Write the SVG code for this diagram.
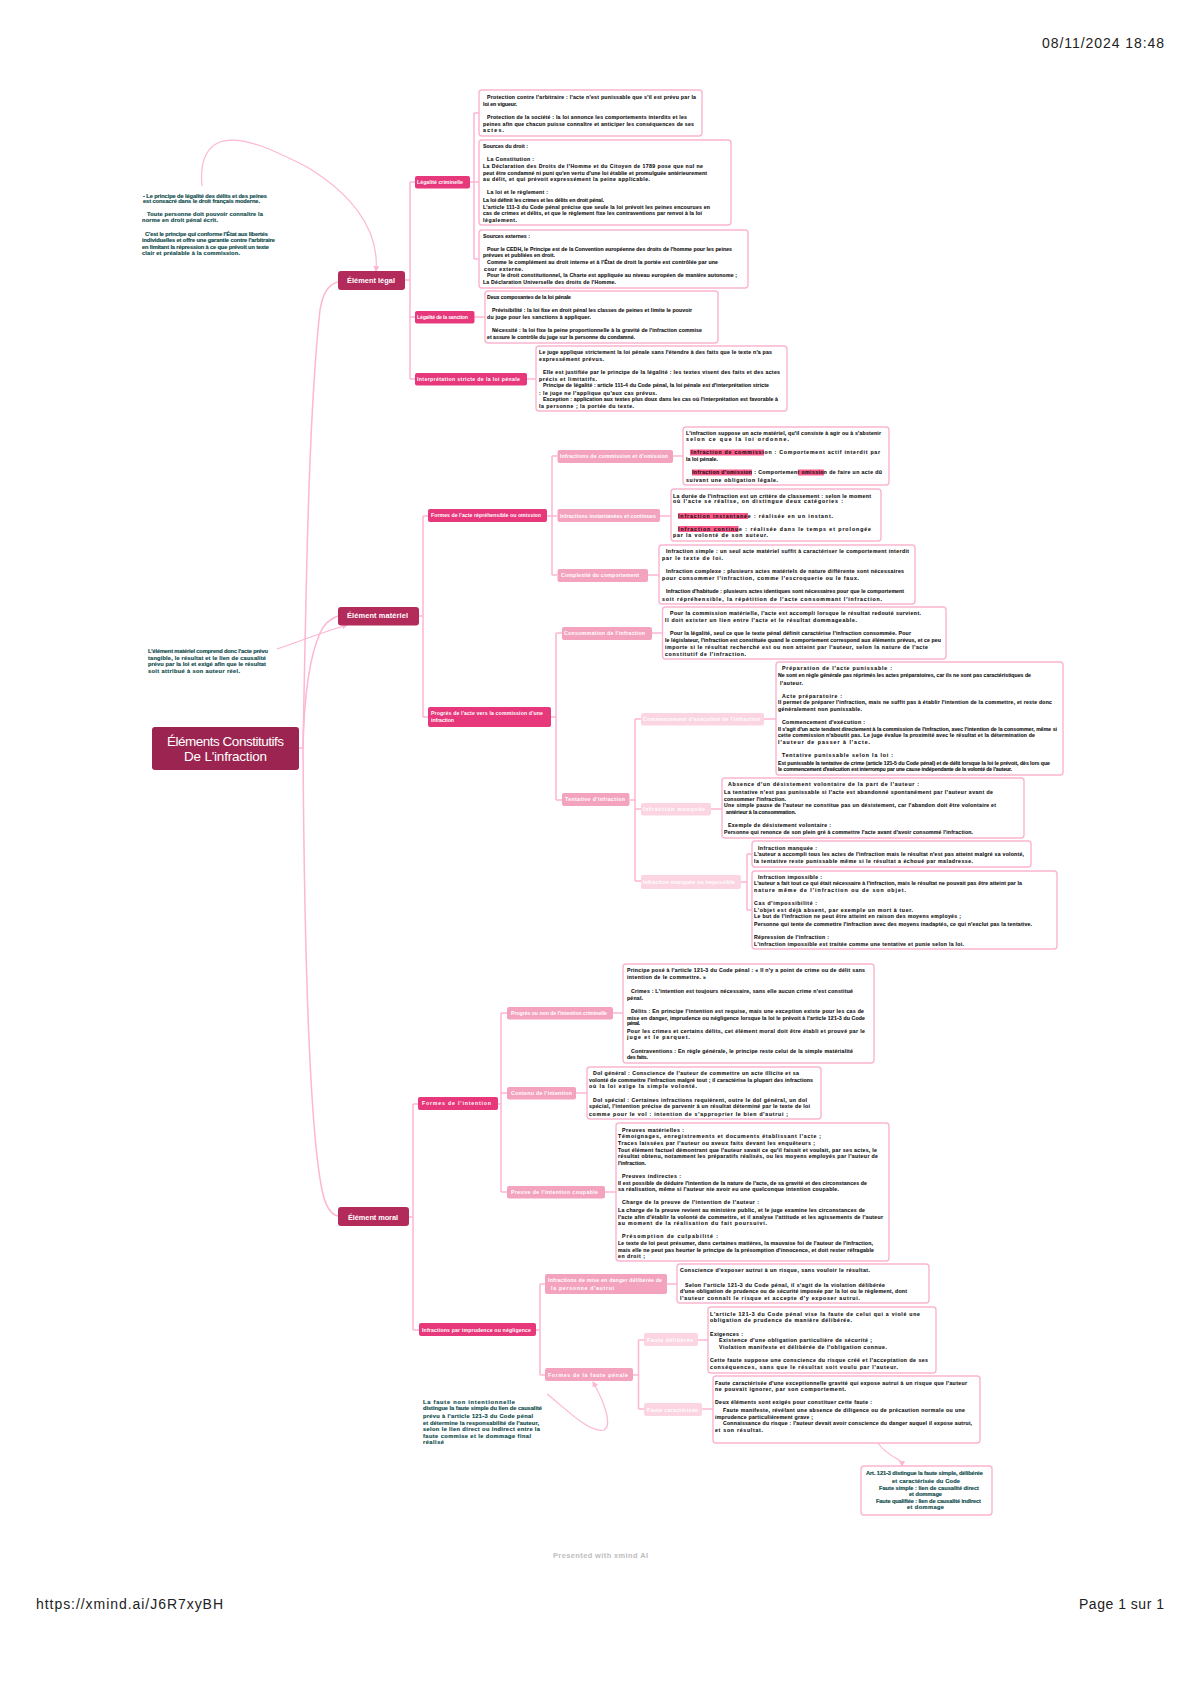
<svg xmlns="http://www.w3.org/2000/svg" width="1200" height="1696" viewBox="0 0 1200 1696">
<style>
text{font-family:"Liberation Sans",Arial,sans-serif}
.t{font-size:5.2px;font-weight:700;fill:#111;stroke:#111;stroke-width:.1}
.n{font-size:5.7px;font-weight:700;fill:#0d4a4a;stroke:#0d4a4a;stroke-width:.15}
.w{font-size:5.2px;font-weight:700;fill:#fff}
.l1t{font-size:7.4px;font-weight:700;fill:#fff}
.leaf{fill:#fff;stroke:#fbb4d0;stroke-width:1.4}
.l1{fill:#b32b5b}.l2{fill:#e6387a}.l3{fill:#f4a3bf}.l4{fill:#fbd5e2}
.hl{fill:#fb5c8c}
.c{fill:none;stroke:#fdb6d4;stroke-width:1.5}
.r{fill:none;stroke:#fdb6d4;stroke-width:1.2}
.hf{font-size:14px;fill:#222}
</style>
<defs><marker id="ah" viewBox="0 0 6 6" refX="5" refY="3" markerWidth="5" markerHeight="5" orient="auto"><path d="M0 0L6 3L0 6z" fill="#fdb6d4"/></marker></defs>
<rect width="1200" height="1696" fill="#fff"/>
<text id="date" class="hf" x="1042" y="48" textLength="122">08/11/2024 18:48</text>
<text id="url" class="hf" x="36" y="1609" textLength="187">https://xmind.ai/J6R7xyBH</text>
<text id="page" class="hf" x="1079" y="1609" textLength="85">Page 1 sur 1</text>
<text id="credit" x="553" y="1558" font-size="7.4" font-weight="700" fill="#bdbdbd" textLength="95">Presented with xmind AI</text>

<g id="connectors">
<path class="c" d="M299 748H303C306 600 308 420 320 310Q324 285 338 282"/>
<path class="c" d="M303 748C304 700 308 660 320 633Q326 620 338 616"/>
<path class="c" d="M303 748C304 900 308 1120 322 1190Q327 1214 338 1216"/>
<path class="c" d="M405 280H410M410 182V379M410 182H415M410 317H415M410 379H415M470 182H479M474 113V259M474 113H479M474 259H479M474.500 317H485M527 379H536"/>
<path class="c" d="M419 616H423M423 516V717M423 516H428M423 717H428M547 516H552M552 456V575M552 456H557M552 516H557M552 575H557M673 456H683M660 516H671M648 575H659"/>
<path class="c" d="M551 717H556M556 633V800M556 633H562M556 800H562M652 633H662M630 800H635M635 719V881M635 719H641M635 809H641M635 881H641M764 719H776M711 809H722M741 882H747M747 854V910M747 854H752M747 910H752"/>
<path class="c" d="M409 1217H413M413 1104V1330M413 1104H418M413 1330H419M498 1104H501M501 1013V1192M501 1013H507M501 1093H507M501 1192H507M613 1013H623M576 1093H587M605 1192H616"/>
<path class="c" d="M536 1330H540M540 1284V1375M540 1284H545M540 1375H545M667 1284H677M633 1375H638.500M638.500 1340V1409M638.500 1340H644M638.500 1409H644M698 1340H708M702 1409H713"/>
<path class="r" marker-end="url(#ah)" d="M202 186C200 165 205 148 220 142C240 135 270 148 307 167C345 190 380 225 376 271"/>
<path class="r" marker-end="url(#ah)" d="M277 649C295 643 320 633 347 625"/>
<path class="r" marker-end="url(#ah)" d="M547 1394C565 1408 590 1434 604 1430C612 1426 606 1405 593 1382"/>
<path class="r" marker-end="url(#ah)" d="M878 1443C884 1452 892 1456 899 1460Q902 1462 902 1466"/>
</g>

<g id="central"><rect x="152" y="727" width="147" height="43" rx="3" fill="#9c2450"/>
<text x="167" y="746" font-size="13.500" fill="#fff" textLength="117">Éléments Constitutifs</text>
<text x="184" y="761" font-size="13.500" fill="#fff" textLength="83">De L'infraction</text></g>

<g id="el-legal"><rect class="l1" x="338" y="271" width="67" height="19" rx="3"/><text class="l1t" x="347" y="283" textLength="48">Élément légal</text></g>
<g id="el-materiel"><rect class="l1" x="338" y="607" width="81" height="18.500" rx="3"/><text class="l1t" x="347" y="618" textLength="61">Élément matériel</text></g>
<g id="el-moral"><rect class="l1" x="338" y="1207" width="71" height="19" rx="3"/><text class="l1t" x="348" y="1220" textLength="50">Élément moral</text></g>

<g id="n-legcrim"><rect class="l2" x="415" y="176" width="55" height="12.500" rx="2"/><text class="w" x="417" y="184" textLength="46">Légalité criminelle</text></g>
<g id="n-legsanc"><rect class="l2" x="415" y="311" width="59.500" height="12.500" rx="2"/><text class="w" x="417" y="319" textLength="51">Légalité de la sanction</text></g>
<g id="n-interp"><rect class="l2" x="415" y="373" width="112" height="12.500" rx="2"/><text class="w" x="417" y="381" textLength="103">Interprétation stricte de la loi pénale</text></g>

<g id="n-formes"><rect class="l2" x="428" y="509" width="119" height="13" rx="2"/><text class="w" x="431" y="517" textLength="110">Formes de l'acte répréhensible ou omission</text></g>
<g id="n-progres"><rect class="l2" x="428" y="707" width="123" height="20" rx="2"/><text class="w" x="431" y="714.500" textLength="112">Progrès de l'acte vers la commission d'une</text><text class="w" x="431" y="722.300" textLength="23">infraction</text></g>
<g id="n-comm"><rect class="l3" x="557.500" y="450" width="115.500" height="13" rx="2"/><text class="w" x="560" y="458.300" textLength="108">Infractions de commission et d'omission</text></g>
<g id="n-inst"><rect class="l3" x="557.500" y="509" width="102.500" height="13" rx="2"/><text class="w" x="560" y="518" textLength="96">Infractions instantanées et continues</text></g>
<g id="n-compl"><rect class="l3" x="557.500" y="569" width="90.500" height="13" rx="2"/><text class="w" x="561" y="577" textLength="78">Complexité du comportement</text></g>
<g id="n-conso"><rect class="l3" x="562" y="627" width="90" height="13" rx="2"/><text class="w" x="564" y="635.300" textLength="81">Consommation de l'infraction</text></g>
<g id="n-tent"><rect class="l3" x="562" y="793" width="67.500" height="13" rx="2"/><text class="w" x="565" y="801.300" textLength="60">Tentative d'infraction</text></g>
<g id="n-cexec"><rect class="l4" x="641" y="713" width="123" height="12.500" rx="2"/><text class="w" x="643" y="721" textLength="117">Commencement d'exécution de l'infraction</text></g>
<g id="n-manq"><rect class="l4" x="641" y="803" width="70" height="12.500" rx="2"/><text class="w" x="643" y="811" textLength="62">Infraction manquée</text></g>
<g id="n-imp"><rect class="l4" x="641" y="875" width="100" height="14" rx="2"/><text class="w" x="643" y="883.700" textLength="92">Infraction manquée ou impossible</text></g>

<g id="n-fint"><rect class="l2" x="418" y="1097" width="80" height="13" rx="2"/><text class="w" x="422" y="1105" textLength="69">Formes de l'intention</text></g>
<g id="n-prog"><rect class="l3" x="507" y="1007" width="106" height="12.500" rx="2"/><text class="w" x="511" y="1015" textLength="96">Progrès ou non de l'intention criminelle</text></g>
<g id="n-cont"><rect class="l3" x="507" y="1087" width="69" height="12.500" rx="2"/><text class="w" x="511" y="1095" textLength="61">Contenu de l'intention</text></g>
<g id="n-preuve"><rect class="l3" x="507" y="1186" width="98" height="12.500" rx="2"/><text class="w" x="511" y="1194" textLength="87">Preuve de l'intention coupable</text></g>
<g id="n-impr"><rect class="l2" x="419" y="1323" width="117" height="13" rx="2"/><text class="w" x="422" y="1332" textLength="109">Infractions par imprudence ou négligence</text></g>
<g id="n-danger"><rect class="l3" x="545" y="1274" width="122" height="20" rx="2"/><text class="w" x="548" y="1282.300" textLength="114">Infractions de mise en danger délibérée de</text><text class="w" x="551" y="1289.700" textLength="63">la personne d'autrui</text></g>
<g id="n-ffaute"><rect class="l3" x="545" y="1368" width="88" height="13" rx="2"/><text class="w" x="548" y="1377" textLength="80">Formes de la faute pénale</text></g>
<g id="n-fdel"><rect class="l4" x="644" y="1333" width="54" height="13" rx="2"/><text class="w" x="647" y="1342" textLength="46">Faute délibérée</text></g>
<g id="n-fcar"><rect class="l4" x="644" y="1403" width="58" height="13" rx="2"/><text class="w" x="647" y="1412" textLength="51">Faute caractérisée</text></g>

<g id="note1">
<text class="n" x="143" y="198" textLength="124">- Le principe de légalité des délits et des peines</text>
<text class="n" x="143" y="203.300" textLength="117">est consacré dans le droit français moderne.</text>
<text class="n" x="147" y="216.300" textLength="116">Toute personne doit pouvoir connaître la</text>
<text class="n" x="142" y="222.300" textLength="76">norme en droit pénal écrit.</text>
<text class="n" x="145" y="236" textLength="123">C'est le principe qui conforme l'État aux libertés</text>
<text class="n" x="142" y="242" textLength="133">individuelles et offre une garantie contre l'arbitraire</text>
<text class="n" x="142" y="249.300" textLength="127">en limitant la répression à ce que prévoit un texte</text>
<text class="n" x="142" y="255.300" textLength="98">clair et préalable à la commission.</text>
</g>
<g id="note2">
<text class="n" x="148" y="652.700" textLength="120">L'élément matériel comprend donc l'acte prévu</text>
<text class="n" x="148" y="659.700" textLength="118">tangible, le résultat et le lien de causalité</text>
<text class="n" x="148" y="666" textLength="118">prévu par la loi et exigé afin que le résultat</text>
<text class="n" x="148" y="673" textLength="92">soit attribué à son auteur réel.</text>
</g>
<g id="note3">
<text class="n" x="423" y="1404" textLength="92">La faute non intentionnelle</text>
<text class="n" x="423" y="1410" textLength="119">distingue la faute simple du lien de causalité</text>
<text class="n" x="423" y="1418" textLength="110">prévu à l'article 121-3 du Code pénal</text>
<text class="n" x="423" y="1425" textLength="116">et détermine la responsabilité de l'auteur,</text>
<text class="n" x="423" y="1431" textLength="117">selon le lien direct ou indirect entre la</text>
<text class="n" x="423" y="1438" textLength="108">faute commise et le dommage final</text>
<text class="n" x="423" y="1444" textLength="21">réalisé</text>
</g>
<g id="note4"><rect class="leaf" x="861" y="1466" width="131" height="49" rx="3"/>
<text class="n" x="866" y="1475" textLength="117">Art. 121-3 distingue la faute simple, délibérée</text>
<text class="n" x="892" y="1483" textLength="68">et caractérisée du Code</text>
<text class="n" x="879" y="1490" textLength="100">Faute simple : lien de causalité direct</text>
<text class="n" x="909" y="1496" textLength="33">et dommage</text>
<text class="n" x="876" y="1503" textLength="105">Faute qualifiée : lien de causalité indirect</text>
<text class="n" x="907" y="1509" textLength="37">et dommage</text>
</g>

<g id="leaf1"><rect class="leaf" x="479" y="90" width="223" height="46" rx="3"/>
<text class="t" x="487" y="98.700" textLength="209">Protection contre l'arbitraire : l'acte n'est punissable que s'il est prévu par la</text>
<text class="t" x="483" y="105.700" textLength="34">loi en vigueur.</text>
<text class="t" x="487" y="118.700" textLength="200">Protection de la société : la loi annonce les comportements interdits et les</text>
<text class="t" x="483" y="126" textLength="211">peines afin que chacun puisse connaître et anticiper les conséquences de ses</text>
<text class="t" x="483" y="132" textLength="21">actes.</text></g>

<g id="leaf2"><rect class="leaf" x="479" y="140" width="252" height="85" rx="3"/>
<text class="t" x="483" y="148" textLength="45">Sources du droit :</text>
<text class="t" x="487" y="161" textLength="47">La Constitution :</text>
<text class="t" x="483" y="168.300" textLength="220">La Déclaration des Droits de l'Homme et du Citoyen de 1789 pose que nul ne</text>
<text class="t" x="483" y="175.300" textLength="224">peut être condamné ni puni qu'en vertu d'une loi établie et promulguée antérieurement</text>
<text class="t" x="483" y="181.300" textLength="167">au délit, et qui prévoit expressément la peine applicable.</text>
<text class="t" x="487" y="194.300" textLength="61">La loi et le règlement :</text>
<text class="t" x="483" y="201.700" textLength="121">La loi définit les crimes et les délits en droit pénal.</text>
<text class="t" x="483" y="209" textLength="227">L'article 111-3 du Code pénal précise que seule la loi prévoit les peines encourues en</text>
<text class="t" x="483" y="215" textLength="219">cas de crimes et délits, et que le règlement fixe les contraventions par renvoi à la loi</text>
<text class="t" x="483" y="222" textLength="34">légalement.</text></g>

<g id="leaf3"><rect class="leaf" x="479" y="230" width="269" height="58" rx="3"/>
<text class="t" x="483" y="238" textLength="47">Sources externes :</text>
<text class="t" x="487" y="251" textLength="245">Pour le CEDH, le Principe est de la Convention européenne des droits de l'homme pour les peines</text>
<text class="t" x="483" y="257" textLength="72">prévues et publiées en droit.</text>
<text class="t" x="487" y="264" textLength="231">Comme le complément au droit interne et à l'État de droit la portée est contrôlée par une</text>
<text class="t" x="484" y="271.300" textLength="39">cour externe.</text>
<text class="t" x="487" y="277.300" textLength="250">Pour le droit constitutionnel, la Charte est appliquée au niveau européen de manière autonome ;</text>
<text class="t" x="483" y="284.300" textLength="133">La Déclaration Universelle des droits de l'Homme.</text></g>

<g id="leaf4"><rect class="leaf" x="485" y="291" width="233" height="52" rx="3"/>
<text class="t" x="487" y="298.700" textLength="84">Deux composantes de la loi pénale</text>
<text class="t" x="492" y="312" textLength="200">Prévisibilité : la loi fixe en droit pénal les classes de peines et limite le pouvoir</text>
<text class="t" x="487" y="319" textLength="104">du juge pour les sanctions à appliquer.</text>
<text class="t" x="492" y="332.300" textLength="210">Nécessité : la loi fixe la peine proportionnelle à la gravité de l'infraction commise</text>
<text class="t" x="487" y="339.300" textLength="148">et assure le contrôle du juge sur la personne du condamné.</text></g>

<g id="leaf5"><rect class="leaf" x="536" y="346" width="251" height="65" rx="3"/>
<text class="t" x="539" y="354" textLength="233">Le juge applique strictement la loi pénale sans l'étendre à des faits que le texte n'a pas</text>
<text class="t" x="539" y="361.300" textLength="65">expressément prévus.</text>
<text class="t" x="543" y="374.300" textLength="237">Elle est justifiée par le principe de la légalité : les textes visent des faits et des actes</text>
<text class="t" x="539" y="381.300" textLength="58">précis et limitatifs.</text>
<text class="t" x="543" y="387.300" textLength="226">Principe de légalité : article 111-4 du Code pénal, la loi pénale est d'interprétation stricte</text>
<text class="t" x="539" y="394.700" textLength="118">: le juge ne l'applique qu'aux cas prévus.</text>
<text class="t" x="543" y="400.700" textLength="235">Exception : application aux textes plus doux dans les cas où l'interprétation est favorable à</text>
<text class="t" x="539" y="407.700" textLength="95">la personne ; la portée du texte.</text></g>

<g id="leafA"><rect class="leaf" x="683" y="427" width="206" height="58" rx="3"/>
<rect class="hl" x="690" y="449.500" width="74" height="6"/><rect class="hl" x="692" y="469.500" width="60" height="6"/><rect class="hl" x="798" y="469.500" width="26" height="6"/>
<text class="t" x="686" y="435.300" textLength="195">L'infraction suppose un acte matériel, qu'il consiste à agir ou à s'abstenir</text>
<text class="t" x="686" y="441.300" textLength="103">selon ce que la loi ordonne.</text>
<text class="t" x="691" y="454.300" textLength="189">Infraction de commission : Comportement actif interdit par</text>
<text class="t" x="686" y="461.300" textLength="32">la loi pénale.</text>
<text class="t" x="692" y="474.300" textLength="190">Infraction d'omission : Comportement omission de faire un acte dû</text>
<text class="t" x="686" y="481.700" textLength="92">suivant une obligation légale.</text></g>

<g id="leafB"><rect class="leaf" x="671" y="489" width="210" height="52" rx="3"/>
<rect class="hl" x="678" y="513" width="70" height="6"/><rect class="hl" x="678" y="526" width="60.500" height="6"/>
<text class="t" x="673" y="497.700" textLength="198">La durée de l'infraction est un critère de classement : selon le moment</text>
<text class="t" x="673" y="503.300" textLength="170">où l'acte se réalise, on distingue deux catégories :</text>
<text class="t" x="678" y="518" textLength="155">Infraction instantanée : réalisée en un instant.</text>
<text class="t" x="678" y="531" textLength="193">Infraction continue : réalisée dans le temps et prolongée</text>
<text class="t" x="673" y="537" textLength="95">par la volonté de son auteur.</text></g>

<g id="leafC"><rect class="leaf" x="659" y="545" width="256" height="59" rx="3"/>
<text class="t" x="666" y="553" textLength="243">Infraction simple : un seul acte matériel suffit à caractériser le comportement interdit</text>
<text class="t" x="662" y="560" textLength="61">par le texte de loi.</text>
<text class="t" x="666" y="573.300" textLength="238">Infraction complexe : plusieurs actes matériels de nature différente sont nécessaires</text>
<text class="t" x="662" y="580.300" textLength="197">pour consommer l'infraction, comme l'escroquerie ou le faux.</text>
<text class="t" x="666" y="593.300" textLength="238">Infraction d'habitude : plusieurs actes identiques sont nécessaires pour que le comportement</text>
<text class="t" x="662" y="600.700" textLength="220">soit répréhensible, la répétition de l'acte consommant l'infraction.</text></g>

<g id="leafD"><rect class="leaf" x="662.500" y="607" width="283.500" height="52" rx="3"/>
<text class="t" x="670" y="615.300" textLength="251">Pour la commission matérielle, l'acte est accompli lorsque le résultat redouté survient.</text>
<text class="t" x="665" y="622.300" textLength="192">Il doit exister un lien entre l'acte et le résultat dommageable.</text>
<text class="t" x="670" y="635.300" textLength="241">Pour la légalité, seul ce que le texte pénal définit caractérise l'infraction consommée. Pour</text>
<text class="t" x="665" y="641.700" textLength="276">le législateur, l'infraction est constituée quand le comportement correspond aux éléments prévus, et ce peu</text>
<text class="t" x="665" y="648.700" textLength="263">importe si le résultat recherché est ou non atteint par l'auteur, selon la nature de l'acte</text>
<text class="t" x="665" y="655.700" textLength="81">constitutif de l'infraction.</text></g>

<g id="leafE"><rect class="leaf" x="776" y="662" width="287" height="113" rx="3"/>
<text class="t" x="782" y="670.300" textLength="110">Préparation de l'acte punissable :</text>
<text class="t" x="778" y="677.300" textLength="253">Ne sont en règle générale pas réprimés les actes préparatoires, car ils ne sont pas caractéristiques de</text>
<text class="t" x="780" y="684.700" textLength="23">l'auteur.</text>
<text class="t" x="782" y="697.700" textLength="60">Acte préparatoire :</text>
<text class="t" x="778" y="703.700" textLength="274">Il permet de préparer l'infraction, mais ne suffit pas à établir l'intention de la commettre, et reste donc</text>
<text class="t" x="778" y="711" textLength="84">généralement non punissable.</text>
<text class="t" x="782" y="724" textLength="83">Commencement d'exécution :</text>
<text class="t" x="778" y="731.300" textLength="279">Il s'agit d'un acte tendant directement à la commission de l'infraction, avec l'intention de la consommer, même si</text>
<text class="t" x="778" y="737.300" textLength="257">cette commission n'aboutit pas. Le juge évalue la proximité avec le résultat et la détermination de</text>
<text class="t" x="778" y="744.300" textLength="92">l'auteur de passer à l'acte.</text>
<text class="t" x="782" y="757.300" textLength="111">Tentative punissable selon la loi :</text>
<text class="t" x="778" y="764.700" textLength="272">Est punissable la tentative de crime (article 121-5 du Code pénal) et de délit lorsque la loi le prévoit, dès lors que</text>
<text class="t" x="778" y="770.700" textLength="234">le commencement d'exécution est interrompu par une cause indépendante de la volonté de l'auteur.</text></g>

<g id="leafF"><rect class="leaf" x="722" y="778" width="302" height="60" rx="3"/>
<text class="t" x="728" y="786.300" textLength="191">Absence d'un désistement volontaire de la part de l'auteur :</text>
<text class="t" x="724" y="793.700" textLength="269">La tentative n'est pas punissable si l'acte est abandonné spontanément par l'auteur avant de</text>
<text class="t" x="724" y="800.700" textLength="62">consommer l'infraction.</text>
<text class="t" x="724" y="806.700" textLength="272">Une simple pause de l'auteur ne constitue pas un désistement, car l'abandon doit être volontaire et</text>
<text class="t" x="726" y="814" textLength="70">antérieur à la consommation.</text>
<text class="t" x="728" y="827" textLength="103">Exemple de désistement volontaire :</text>
<text class="t" x="724" y="834.300" textLength="249">Personne qui renonce de son plein gré à commettre l'acte avant d'avoir consommé l'infraction.</text></g>

<g id="leafG"><rect class="leaf" x="752" y="841" width="279" height="26" rx="3"/>
<text class="t" x="758" y="850" textLength="59">Infraction manquée :</text>
<text class="t" x="754" y="856" textLength="270">L'auteur a accompli tous les actes de l'infraction mais le résultat n'est pas atteint malgré sa volonté,</text>
<text class="t" x="754" y="863" textLength="219">la tentative reste punissable même si le résultat a échoué par maladresse.</text></g>

<g id="leafH"><rect class="leaf" x="752" y="871" width="305" height="78" rx="3"/>
<text class="t" x="758" y="879" textLength="64">Infraction impossible :</text>
<text class="t" x="754" y="885" textLength="268">L'auteur a fait tout ce qui était nécessaire à l'infraction, mais le résultat ne pouvait pas être atteint par la</text>
<text class="t" x="754" y="892" textLength="152">nature même de l'infraction ou de son objet.</text>
<text class="t" x="754" y="905.300" textLength="63">Cas d'impossibilité :</text>
<text class="t" x="754" y="912.300" textLength="159">L'objet est déjà absent, par exemple un mort à tuer.</text>
<text class="t" x="754" y="918.300" textLength="207">Le but de l'infraction ne peut être atteint en raison des moyens employés ;</text>
<text class="t" x="754" y="925.700" textLength="278">Personne qui tente de commettre l'infraction avec des moyens inadaptés, ce qui n'exclut pas la tentative.</text>
<text class="t" x="754" y="938.700" textLength="75">Répression de l'infraction :</text>
<text class="t" x="754" y="945.700" textLength="210">L'infraction impossible est traitée comme une tentative et punie selon la loi.</text></g>

<g id="leafI"><rect class="leaf" x="623" y="964" width="251" height="99" rx="3"/>
<text class="t" x="627" y="972" textLength="238">Principe posé à l'article 121-3 du Code pénal : « Il n'y a point de crime ou de délit sans</text>
<text class="t" x="627" y="979.300" textLength="79">intention de le commettre. »</text>
<text class="t" x="631" y="992.700" textLength="222">Crimes : L'intention est toujours nécessaire, sans elle aucun crime n'est constitué</text>
<text class="t" x="627" y="999.700" textLength="16">pénal.</text>
<text class="t" x="631" y="1012.700" textLength="233">Délits : En principe l'intention est requise, mais une exception existe pour les cas de</text>
<text class="t" x="627" y="1020" textLength="238">mise en danger, imprudence ou négligence lorsque la loi le prévoit à l'article 121-3 du Code</text>
<text class="t" x="627" y="1025.300" textLength="13">pénal.</text>
<text class="t" x="627" y="1033" textLength="238">Pour les crimes et certains délits, cet élément moral doit être établi et prouvé par le</text>
<text class="t" x="627" y="1039" textLength="63">juge et le parquet.</text>
<text class="t" x="631" y="1053.300" textLength="222">Contraventions : En règle générale, le principe reste celui de la simple matérialité</text>
<text class="t" x="627" y="1059.300" textLength="21">des faits.</text></g>

<g id="leafJ"><rect class="leaf" x="587" y="1067" width="234" height="52" rx="3"/>
<text class="t" x="593" y="1075" textLength="206">Dol général : Conscience de l'auteur de commettre un acte illicite et sa</text>
<text class="t" x="589" y="1082.300" textLength="224">volonté de commettre l'infraction malgré tout ; il caractérise la plupart des infractions</text>
<text class="t" x="589" y="1088.300" textLength="108">où la loi exige la simple volonté.</text>
<text class="t" x="593" y="1102.300" textLength="214">Dol spécial : Certaines infractions requièrent, outre le dol général, un dol</text>
<text class="t" x="589" y="1108.300" textLength="221">spécial, l'intention précise de parvenir à un résultat déterminé par le texte de loi</text>
<text class="t" x="589" y="1115.700" textLength="199">comme pour le vol : intention de s'approprier le bien d'autrui ;</text></g>

<g id="leafK"><rect class="leaf" x="616" y="1123" width="273" height="138" rx="3"/>
<text class="t" x="622" y="1131.700" textLength="62">Preuves matérielles :</text>
<text class="t" x="618" y="1137.700" textLength="203">Témoignages, enregistrements et documents établissant l'acte ;</text>
<text class="t" x="618" y="1144.700" textLength="197">Traces laissées par l'auteur ou aveux faits devant les enquêteurs ;</text>
<text class="t" x="618" y="1152" textLength="259">Tout élément factuel démontrant que l'auteur savait ce qu'il faisait et voulait, par ses actes, le</text>
<text class="t" x="618" y="1158" textLength="260">résultat obtenu, notamment les préparatifs réalisés, ou les moyens employés par l'auteur de</text>
<text class="t" x="618" y="1165" textLength="28">l'infraction.</text>
<text class="t" x="622" y="1178" textLength="59">Preuves indirectes :</text>
<text class="t" x="618" y="1185.300" textLength="249">Il est possible de déduire l'intention de la nature de l'acte, de sa gravité et des circonstances de</text>
<text class="t" x="618" y="1191.300" textLength="221">sa réalisation, même si l'auteur nie avoir eu une quelconque intention coupable.</text>
<text class="t" x="622" y="1204.300" textLength="137">Charge de la preuve de l'intention de l'auteur :</text>
<text class="t" x="618" y="1211.700" textLength="247">La charge de la preuve revient au ministère public, et le juge examine les circonstances de</text>
<text class="t" x="618" y="1218.700" textLength="265">l'acte afin d'établir la volonté de commettre, et il analyse l'attitude et les agissements de l'auteur</text>
<text class="t" x="618" y="1224.700" textLength="149">au moment de la réalisation du fait poursuivi.</text>
<text class="t" x="622" y="1237.700" textLength="96">Présomption de culpabilité :</text>
<text class="t" x="618" y="1245" textLength="255">Le texte de loi peut présumer, dans certaines matières, la mauvaise foi de l'auteur de l'infraction,</text>
<text class="t" x="618" y="1252" textLength="256">mais elle ne peut pas heurter le principe de la présomption d'innocence, et doit rester réfragable</text>
<text class="t" x="618" y="1258" textLength="27">en droit ;</text></g>

<g id="leafL"><rect class="leaf" x="677" y="1264" width="252" height="39" rx="3"/>
<text class="t" x="680" y="1272.300" textLength="190">Conscience d'exposer autrui à un risque, sans vouloir le résultat.</text>
<text class="t" x="685" y="1286.700" textLength="200">Selon l'article 121-3 du Code pénal, il s'agit de la violation délibérée</text>
<text class="t" x="680" y="1292.700" textLength="227">d'une obligation de prudence ou de sécurité imposée par la loi ou le règlement, dont</text>
<text class="t" x="680" y="1299.700" textLength="180">l'auteur connaît le risque et accepte d'y exposer autrui.</text></g>

<g id="leafM"><rect class="leaf" x="708" y="1307" width="228" height="66" rx="3"/>
<text class="t" x="710" y="1315.700" textLength="210">L'article 121-3 du Code pénal vise la faute de celui qui a violé une</text>
<text class="t" x="710" y="1321.700" textLength="142">obligation de prudence de manière délibérée.</text>
<text class="t" x="710" y="1336" textLength="33">Exigences :</text>
<text class="t" x="719" y="1342" textLength="153">Existence d'une obligation particulière de sécurité ;</text>
<text class="t" x="719" y="1349" textLength="168">Violation manifeste et délibérée de l'obligation connue.</text>
<text class="t" x="710" y="1362.300" textLength="218">Cette faute suppose une conscience du risque créé et l'acceptation de ses</text>
<text class="t" x="710" y="1369.300" textLength="188">conséquences, sans que le résultat soit voulu par l'auteur.</text></g>

<g id="leafN"><rect class="leaf" x="713" y="1376" width="267" height="67" rx="3"/>
<text class="t" x="715" y="1385.300" textLength="252">Faute caractérisée d'une exceptionnelle gravité qui expose autrui à un risque que l'auteur</text>
<text class="t" x="715" y="1391.300" textLength="131">ne pouvait ignorer, par son comportement.</text>
<text class="t" x="715" y="1404.300" textLength="157">Deux éléments sont exigés pour constituer cette faute :</text>
<text class="t" x="723" y="1411.700" textLength="242">Faute manifeste, révélant une absence de diligence ou de précaution normale ou une</text>
<text class="t" x="715" y="1418.700" textLength="98">imprudence particulièrement grave ;</text>
<text class="t" x="723" y="1424.700" textLength="249">Connaissance du risque : l'auteur devait avoir conscience du danger auquel il expose autrui,</text>
<text class="t" x="715" y="1432" textLength="48">et son résultat.</text></g>
</svg>
